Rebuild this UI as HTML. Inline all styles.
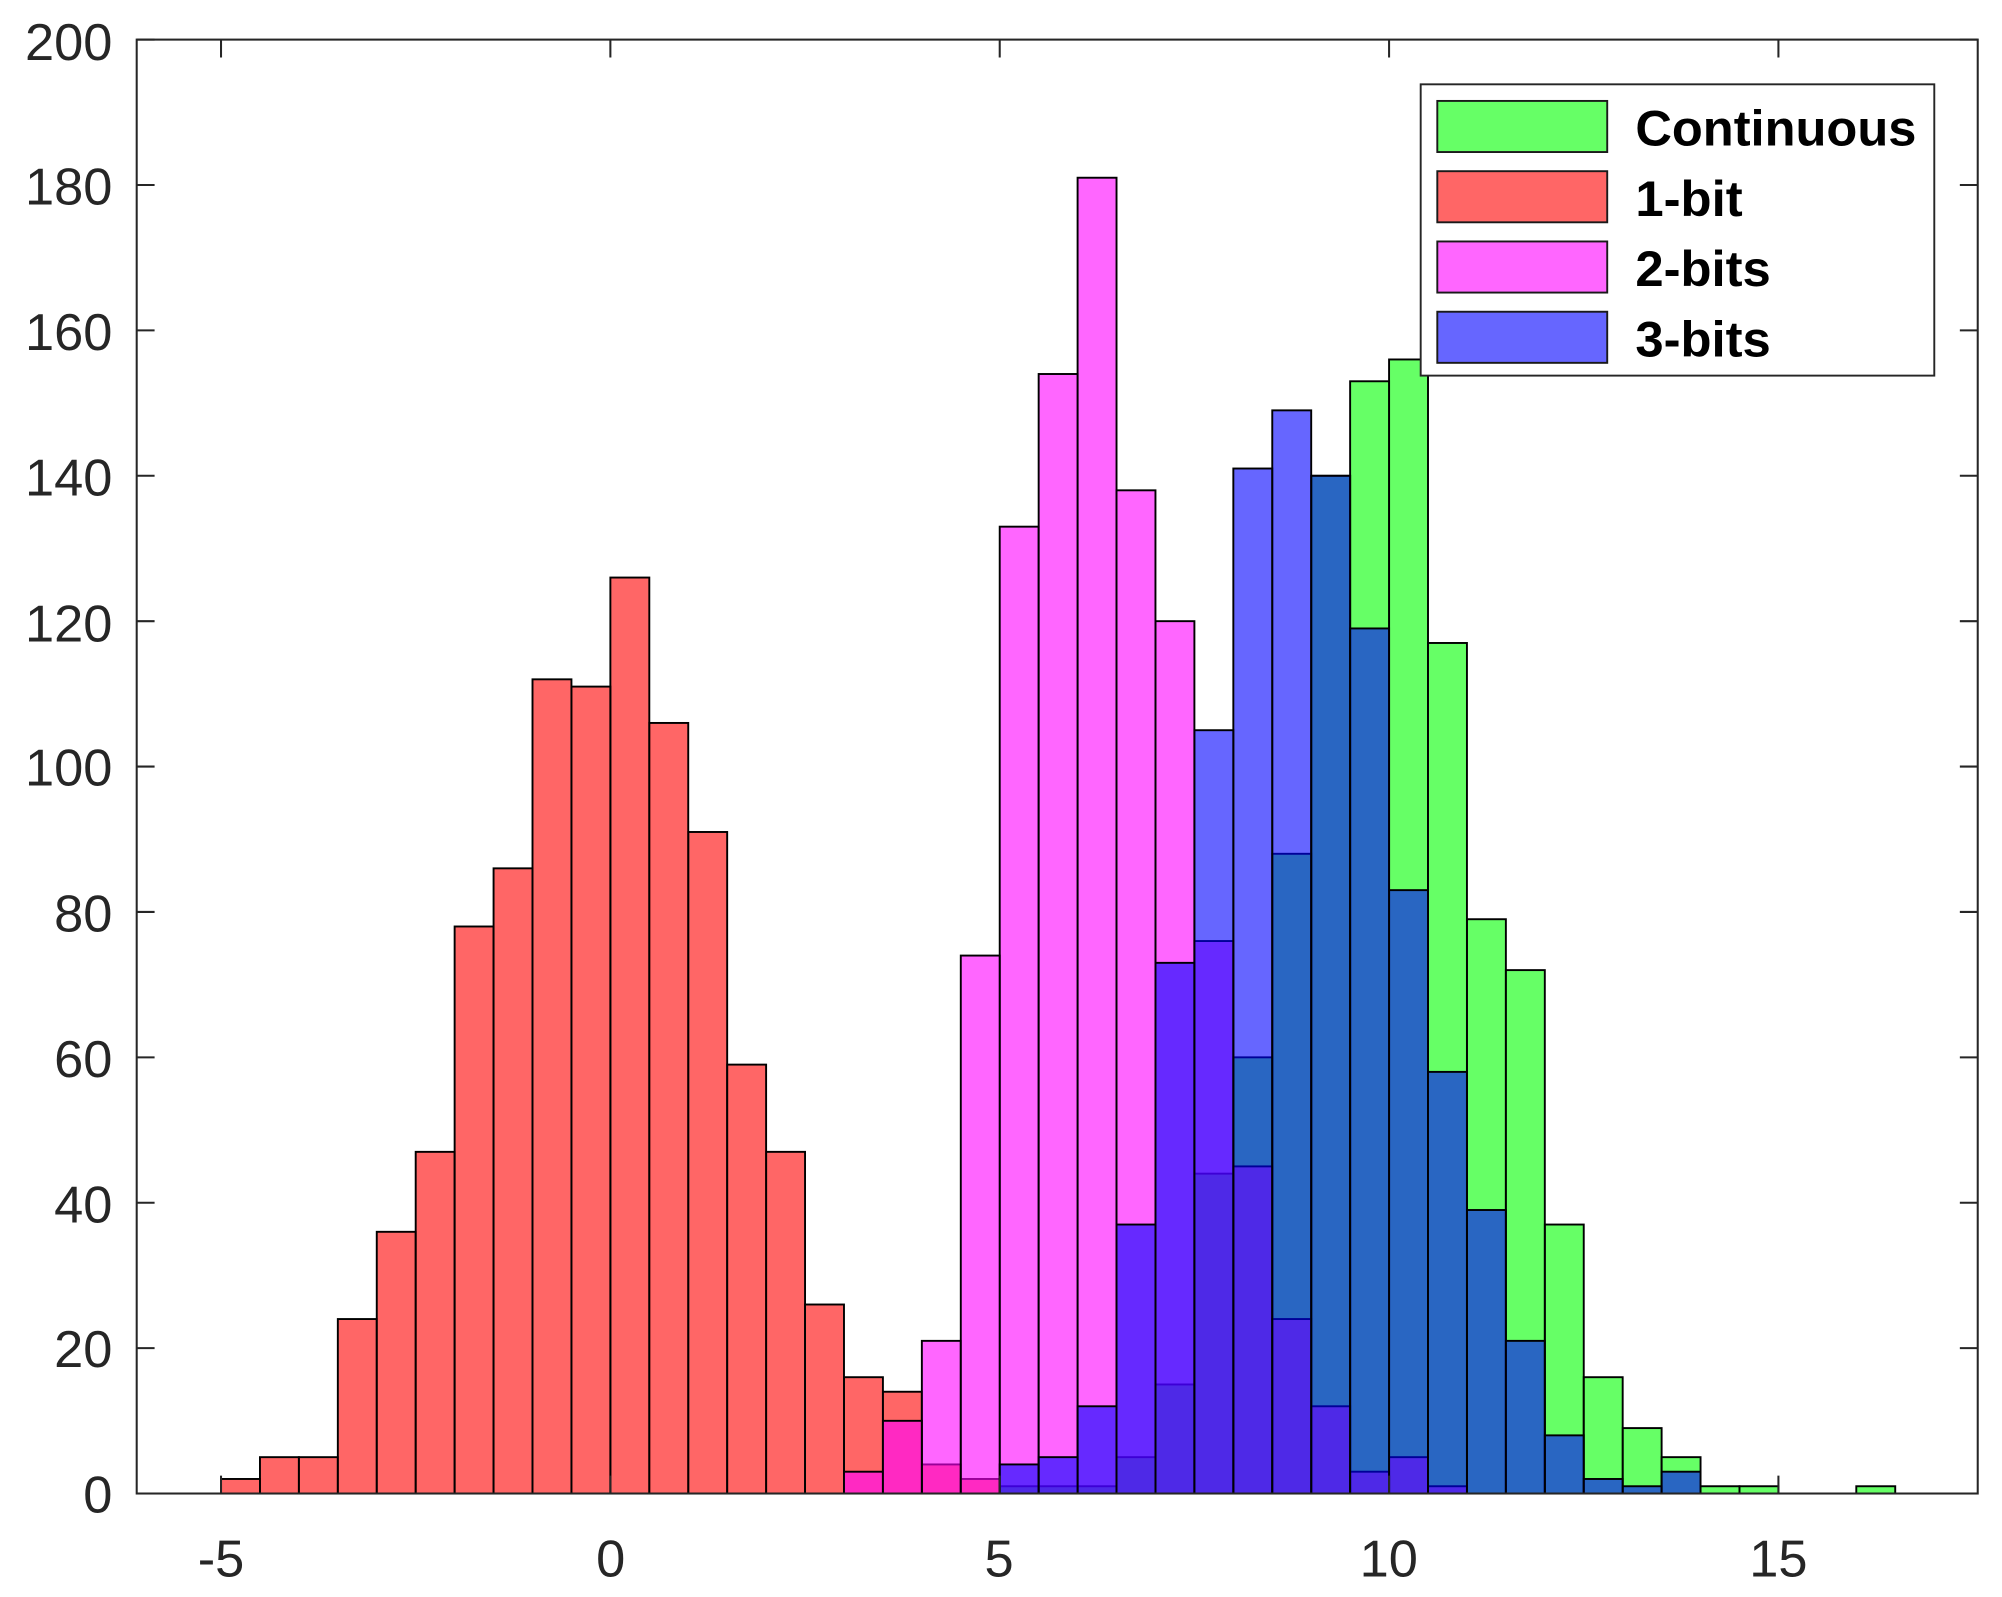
<!DOCTYPE html>
<html><head><meta charset="utf-8"><style>
html,body{margin:0;padding:0;background:#fff;}
svg{display:block;}
text{font-family:"Liberation Sans",Arial,sans-serif;}
</style></head><body>
<svg id="s" width="2002" height="1597" viewBox="0 0 1567 1250" preserveAspectRatio="none" xmlns="http://www.w3.org/2000/svg">
<rect x="0" y="0" width="1567" height="1250" fill="#fff"/>
<g id="bars"></g>
<rect x="107" y="31" width="1441" height="1138" fill="none" stroke="#262626" stroke-width="1.6"/>
<g id="ticks" stroke="#262626" stroke-width="1.6"></g>
<g fill="#262626" font-size="41" text-anchor="end">
<text x="88" y="1184">0</text><text x="88" y="1070">20</text><text x="88" y="957">40</text>
<text x="88" y="843">60</text><text x="88" y="729">80</text><text x="88" y="615">100</text>
<text x="88" y="502">120</text><text x="88" y="388">140</text><text x="88" y="274">160</text>
<text x="88" y="160">180</text><text x="88" y="47">200</text>
</g>
<g fill="#262626" font-size="41" text-anchor="middle">
<text x="173" y="1234">-5</text><text x="478" y="1234">0</text><text x="782" y="1234">5</text>
<text x="1087" y="1234">10</text><text x="1392" y="1234">15</text>
</g>
<rect x="1112" y="66" width="402" height="228" fill="#fff" stroke="#262626" stroke-width="1.5"/>
<g stroke="#1a1a1a" stroke-width="1.5">
<rect x="1125" y="79" width="133" height="40" fill="#66ff66"/>
<rect x="1125" y="134" width="133" height="40" fill="#ff6666"/>
<rect x="1125" y="189" width="133" height="40" fill="#ff66ff"/>
<rect x="1125" y="244" width="133" height="40" fill="#6666ff"/>
</g>
<g font-size="39" font-weight="bold" fill="#000">
<text x="1280" y="114" textLength="220" lengthAdjust="spacingAndGlyphs">Continuous</text>
<text x="1280" y="169" textLength="84" lengthAdjust="spacingAndGlyphs">1-bit</text>
<text x="1280" y="224" textLength="106" lengthAdjust="spacingAndGlyphs">2-bits</text>
<text x="1280" y="279" textLength="106" lengthAdjust="spacingAndGlyphs">3-bits</text>
</g>
</svg>
<script>
var X=function(v){return 173+(v+5)*60.95;}, Y=function(c){return 1169-c*5.69;};
var green={5:1,5.5:1,6:1,6.5:5,7:15,7.5:44,8:60,8.5:88,9:140,9.5:153,10:156,10.5:117,11:79,11.5:72,12:37,12.5:16,13:9,13.5:5,14:1,14.5:1,16:1};
var red={"-5":2,"-4.5":5,"-4":5,"-3.5":24,"-3":36,"-2.5":47,"-2":78,"-1.5":86,"-1":112,"-0.5":111,0:126,0.5:106,1:91,1.5:59,2:47,2.5:26,3:16,3.5:14,4:4,4.5:2};
var mag={3:3,3.5:10,4:21,4.5:74,5:133,5.5:154,6:181,6.5:138,7:120,7.5:76,8:45,8.5:24,9:12,9.5:3,10:5,10.5:1};
var blue={5:4,5.5:5,6:12,6.5:37,7:73,7.5:105,8:141,8.5:149,9:140,9.5:119,10:83,10.5:58,11:39,11.5:21,12:8,12.5:2,13:1,13.5:3};
var g=document.getElementById('bars'),ns="http://www.w3.org/2000/svg";
[[green,"#00ff00"],[red,"#ff0000"],[mag,"#ff00ff"],[blue,"#0000ff"]].forEach(function(p){
 for(var k in p[0]){var v=parseFloat(k),c=p[0][k];var r=document.createElementNS(ns,'rect');
 r.setAttribute('x',X(v));r.setAttribute('width',60.95/2);r.setAttribute('y',Y(c));r.setAttribute('height',c*5.69);
 r.setAttribute('fill',p[1]);r.setAttribute('fill-opacity','0.6');r.setAttribute('stroke','#000');r.setAttribute('stroke-width','1.5');g.appendChild(r);}
});
var t=document.getElementById('ticks');
function L(a,b,c,d){var l=document.createElementNS(ns,'line');l.setAttribute('x1',a);l.setAttribute('y1',b);l.setAttribute('x2',c);l.setAttribute('y2',d);t.appendChild(l);}
[-5,0,5,10,15].forEach(function(v){var x=X(v);L(x,1169,x,1155);L(x,31,x,45);});
for(var c=0;c<=200;c+=20){var y=Y(c);L(107,y,121,y);L(1548,y,1534,y);}
</script>
</body></html>
